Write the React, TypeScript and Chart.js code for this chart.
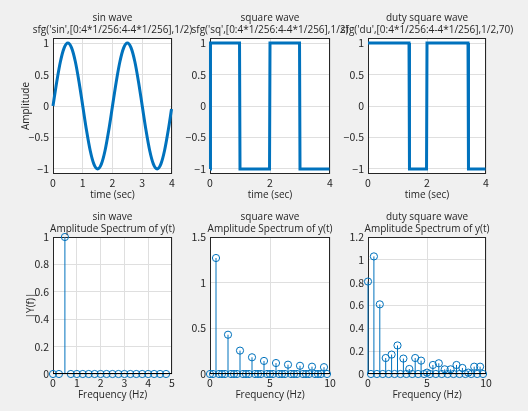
import React, { useEffect, useRef } from "react";
import { Chart, registerables } from "chart.js";

Chart.register(...registerables);

const W = 528;
const H = 411;
const BLUE = "#0072BD";
const INK = "#262626";
const GRID = "#dfdfdf";
const FAMILY = '"Noto Sans CJK JP", "Liberation Sans", sans-serif';
const TEXT_FAMILY = '"Open Sans", "Noto Sans", sans-serif';

// ---- time-domain data ----
const SIN_T = [0, 0.125, 0.25, 0.375, 0.5, 0.625, 0.75, 0.875, 1, 1.125, 1.25, 1.375, 1.5, 1.625, 1.75, 1.875, 2, 2.125, 2.25, 2.375, 2.5, 2.625, 2.75, 2.875, 3, 3.125, 3.25, 3.375, 3.5, 3.625, 3.75, 3.875, 3.984];
const SIN_Y = [0, 0.383, 0.707, 0.924, 1, 0.924, 0.707, 0.383, 0, -0.383, -0.707, -0.924, -1, -0.924, -0.707, -0.383, 0, 0.383, 0.707, 0.924, 1, 0.924, 0.707, 0.383, 0, -0.383, -0.707, -0.924, -1, -0.924, -0.707, -0.383, -0.049];

const SQ_T = [0, 0.016, 0.984, 1, 1.984, 2, 2.984, 3, 3.984];
const SQ_Y = [-1, 1, 1, -1, -1, 1, 1, -1, -1];

const DU_T = [0, 1.39, 1.406, 1.984, 2, 3.39, 3.406, 3.984];
const DU_Y = [1, 1, -1, -1, 1, 1, -1, -1];

// ---- spectra ----
const FREQ = [0, 0.25, 0.5, 0.75, 1, 1.25, 1.5, 1.75, 2, 2.25, 2.5, 2.75, 3, 3.25, 3.5, 3.75, 4, 4.25, 4.5, 4.75, 5, 5.25, 5.5, 5.75, 6, 6.25, 6.5, 6.75, 7, 7.25, 7.5, 7.75, 8, 8.25, 8.5, 8.75, 9, 9.25, 9.5, 9.75];
const SIN_FREQ = [0, 0.25, 0.5, 0.75, 1, 1.25, 1.5, 1.75, 2, 2.25, 2.5, 2.75, 3, 3.25, 3.5, 3.75, 4, 4.25, 4.5, 4.75];
const SIN_AMP = [0, 0, 1, 0, 0, 0, 0, 0, 0, 0, 0, 0, 0, 0, 0, 0, 0, 0, 0, 0];
const SQ_AMP = [0, 0, 1.27, 0, 0, 0, 0.43, 0, 0, 0, 0.256, 0, 0, 0, 0.183, 0, 0, 0, 0.143, 0, 0, 0, 0.12, 0, 0, 0, 0.102, 0, 0, 0, 0.09, 0, 0, 0, 0.08, 0, 0, 0, 0.075, 0];
const DU_AMP = [0.81, 0, 1.03, 0, 0.61, 0, 0.14, 0, 0.17, 0, 0.25, 0, 0.135, 0, 0.044, 0, 0.14, 0, 0.117, 0, 0.012, 0, 0.079, 0, 0.094, 0, 0.041, 0, 0.041, 0, 0.079, 0, 0.053, 0, 0.012, 0, 0.064, 0, 0.064, 0];

// ---- ticks ----
const WAVE_Y_TICKS = [-1, -0.5, 0, 0.5, 1];
const SIN_X_TICKS = [0, 1, 2, 3, 4];
const SQ_X_TICKS = [0, 2, 4];
const SPEC_SIN_X_TICKS = [0, 1, 2, 3, 4, 5];
const SPEC_X_TICKS = [0, 5, 10];
const SPEC_SIN_Y_TICKS = [0, 0.2, 0.4, 0.6, 0.8, 1];
const SPEC_SQ_Y_TICKS = [0, 0.5, 1, 1.5];
const SPEC_DU_Y_TICKS = [0, 0.2, 0.4, 0.6, 0.8, 1, 1.2];

type Panel = {
  box: [number, number, number, number];
  title: [string, string];
  xLabel: string;
  yLabel?: string;
  yLabelX?: number;
  xMin: number;
  xMax: number;
  yMin: number;
  yMax: number;
  xTicks: number[];
  yTicks: number[];
  kind: "line" | "stem";
  xs: number[];
  ys: number[];
};

const PANELS: Panel[] = [
  {
    box: [53, 38, 172, 174],
    title: ["sin wave", "sfg('sin',[0:4*1/256:4-4*1/256],1/2)"],
    xLabel: "time (sec)",
    yLabel: "Amplitude",
    yLabelX: 26,
    xMin: 0, xMax: 4, yMin: -1.08, yMax: 1.08,
    xTicks: SIN_X_TICKS, yTicks: WAVE_Y_TICKS,
    kind: "line", xs: SIN_T, ys: SIN_Y,
  },
  {
    box: [210, 38, 330, 174],
    title: ["square wave", "sfg('sq',[0:4*1/256:4-4*1/256],1/2)"],
    xLabel: "time (sec)",
    xMin: 0, xMax: 4, yMin: -1.08, yMax: 1.08,
    xTicks: SQ_X_TICKS, yTicks: WAVE_Y_TICKS,
    kind: "line", xs: SQ_T, ys: SQ_Y,
  },
  {
    box: [368, 38, 486, 174],
    title: ["duty square wave", "sfg('du',[0:4*1/256:4-4*1/256],1/2,70)"],
    xLabel: "time (sec)",
    xMin: 0, xMax: 4, yMin: -1.08, yMax: 1.08,
    xTicks: SQ_X_TICKS, yTicks: WAVE_Y_TICKS,
    kind: "line", xs: DU_T, ys: DU_Y,
  },
  {
    box: [53, 237, 172, 374],
    title: ["sin wave", "Amplitude Spectrum of y(t)"],
    xLabel: "Frequency (Hz)",
    yLabel: "|Y(f)|",
    yLabelX: 31,
    xMin: 0, xMax: 5, yMin: 0, yMax: 1,
    xTicks: SPEC_SIN_X_TICKS, yTicks: SPEC_SIN_Y_TICKS,
    kind: "stem", xs: SIN_FREQ, ys: SIN_AMP,
  },
  {
    box: [210, 237, 330, 374],
    title: ["square wave", "Amplitude Spectrum of y(t)"],
    xLabel: "Frequency (Hz)",
    xMin: 0, xMax: 10, yMin: 0, yMax: 1.5,
    xTicks: SPEC_X_TICKS, yTicks: SPEC_SQ_Y_TICKS,
    kind: "stem", xs: FREQ, ys: SQ_AMP,
  },
  {
    box: [368, 237, 486, 374],
    title: ["duty square wave", "Amplitude Spectrum of y(t)"],
    xLabel: "Frequency (Hz)",
    xMin: 0, xMax: 10, yMin: 0, yMax: 1.2,
    xTicks: SPEC_X_TICKS, yTicks: SPEC_DU_Y_TICKS,
    kind: "stem", xs: FREQ, ys: DU_AMP,
  },
];

const YW = 30;
const XH = 22;
const TICK_FONT = { family: FAMILY, size: 10.5 };
const TEXT_SIZE = 10;

function fmt(v: number): string {
  const r = Math.round(v * 100) / 100;
  return (r < 0 ? "\u2212" : "") + String(Math.abs(r));
}

function makeDecor(p: Panel) {
  return {
    id: "decor",
    beforeDraw(chart: any) {
      const { ctx, chartArea: a } = chart;
      ctx.save();
      ctx.fillStyle = "#ffffff";
      ctx.fillRect(a.left, a.top, a.right - a.left, a.bottom - a.top);
      ctx.restore();
    },
    beforeDatasetsDraw(chart: any) {
      const { ctx, chartArea: a } = chart;
      ctx.save();
      ctx.strokeStyle = INK;
      ctx.lineWidth = 1;
      ctx.strokeRect(Math.round(a.left) + 0.5, Math.round(a.top) + 0.5, Math.round(a.right - a.left) - 1, Math.round(a.bottom - a.top) - 1);
      ctx.restore();
    },
    afterDatasetsDraw(chart: any) {
      if (p.kind !== "stem") return;
      const { ctx, chartArea: a } = chart;
      const y0 = chart.scales.y.getPixelForValue(0);
      ctx.save();
      ctx.strokeStyle = "#000000";
      ctx.lineWidth = 1;
      ctx.beginPath();
      ctx.moveTo(a.left, Math.round(y0) - 0.5);
      ctx.lineTo(a.right, Math.round(y0) - 0.5);
      ctx.stroke();
      ctx.restore();
    },
    afterDraw(chart: any) {
      const { ctx, chartArea: a } = chart;
      const cx = (a.left + a.right) / 2;
      ctx.save();
      ctx.fillStyle = INK;
      ctx.font = `${TEXT_SIZE}px ${TEXT_FAMILY}`;
      ctx.textAlign = "center";
      ctx.textBaseline = "middle";
      ctx.fillText(p.title[0], cx, a.top - 20);
      ctx.fillText(p.title[1], cx, a.top - 8);
      ctx.fillText(p.xLabel, cx, a.bottom + 21);
      if (p.yLabel) {
        ctx.translate(p.yLabelX || 26, (a.top + a.bottom) / 2);
        ctx.rotate(-Math.PI / 2);
        ctx.fillText(p.yLabel, 0, 0);
      }
      ctx.restore();
    },
  };
}

function buildDatasets(p: Panel): any[] {
  if (p.kind === "line") {
    return [
      {
        data: p.xs.map((x, i) => ({ x, y: p.ys[i] })),
        showLine: true,
        borderColor: BLUE,
        borderWidth: 3,
        pointRadius: 0,
        cubicInterpolationMode: p.xs === SIN_T ? "monotone" : "default",
        tension: 0,
        clip: false,
      },
    ];
  }
  const stems: any[] = [];
  p.xs.forEach((x, i) => {
    stems.push({ x, y: 0 });
    stems.push({ x, y: p.ys[i] });
    stems.push({ x, y: null });
  });
  return [
    {
      data: stems,
      showLine: true,
      spanGaps: false,
      borderColor: BLUE,
      borderWidth: 1,
      pointRadius: 0,
      clip: false,
    },
    {
      data: p.xs.map((x, i) => ({ x, y: p.ys[i] })),
      showLine: false,
      pointStyle: "circle",
      pointRadius: 3.6,
      pointBorderWidth: 1,
      borderColor: BLUE,
      pointBorderColor: BLUE,
      backgroundColor: "rgba(0,0,0,0)",
      pointBackgroundColor: "rgba(0,0,0,0)",
      clip: false,
    },
  ];
}

function makeConfig(p: Panel): any {
  const [l, t, r, b] = p.box;
  return {
    type: "scatter",
    data: { datasets: buildDatasets(p) },
    options: {
      responsive: false,
      animation: false,
      devicePixelRatio: 1,
      events: [],
      layout: {
        padding: { left: l - YW, top: t, right: W - r, bottom: H - b - XH },
      },
      plugins: {
        legend: { display: false },
        tooltip: { enabled: false },
        title: { display: false },
      },
      scales: {
        x: {
          type: "linear",
          min: p.xMin,
          max: p.xMax,
          afterBuildTicks: (s: any) => {
            s.ticks = p.xTicks.map((v) => ({ value: v }));
          },
          afterFit: (s: any) => {
            s.height = XH;
          },
          ticks: {
            autoSkip: false,
            maxRotation: 0,
            minRotation: 0,
            padding: 3,
            color: INK,
            font: TICK_FONT,
            callback: (v: number) => fmt(v),
          },
          grid: { color: GRID, drawTicks: false, lineWidth: 1 },
          border: { display: false },
        },
        y: {
          type: "linear",
          min: p.yMin,
          max: p.yMax,
          afterBuildTicks: (s: any) => {
            s.ticks = p.yTicks.map((v) => ({ value: v }));
          },
          afterFit: (s: any) => {
            s.width = YW;
          },
          ticks: {
            autoSkip: false,
            padding: 4,
            color: INK,
            font: TICK_FONT,
            callback: (v: number) => fmt(v),
          },
          grid: { color: GRID, drawTicks: false, lineWidth: 1 },
          border: { display: false },
        },
      },
    },
    plugins: [makeDecor(p)],
  };
}

function SubPlot({ panel }: { panel: Panel }) {
  const ref = useRef<HTMLCanvasElement | null>(null);
  useEffect(() => {
    if (!ref.current) return;
    const chart = new Chart(ref.current, makeConfig(panel));
    return () => chart.destroy();
  }, [panel]);
  return (
    <canvas
      ref={ref}
      width={W}
      height={H}
      style={{ position: "absolute", left: 0, top: 0, width: W, height: H }}
    />
  );
}

export default function App() {
  return (
    <div
      style={{
        position: "fixed",
        left: 0,
        top: 0,
        width: W,
        height: H,
        background: "#f0f0f0",
        overflow: "hidden",
      }}
    >
      {PANELS.map((p, i) => (
        <SubPlot key={i} panel={p} />
      ))}
    </div>
  );
}
